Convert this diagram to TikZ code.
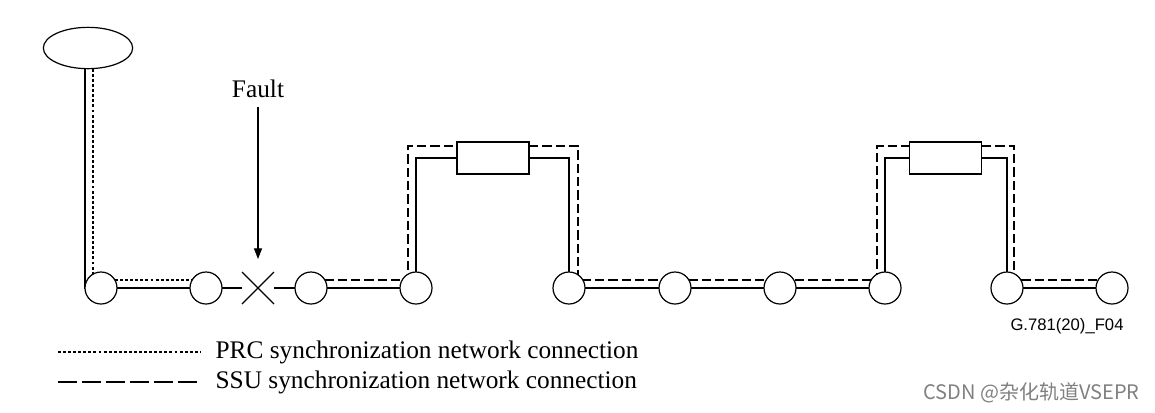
\documentclass[tikz,border=0pt]{standalone}
\usepackage{fontspec}
\setmainfont{Liberation Serif}
\newfontfamily\lsans{Liberation Sans}
\newfontfamily\cjk{Noto Sans CJK SC}
\usetikzlibrary{arrows.meta,shapes.geometric}
\begin{document}
\begin{tikzpicture}[x=0.75pt,y=-0.75pt,line width=0.9pt,
  ne/.style={circle,draw,fill=white,minimum size=24pt,inner sep=0pt},
  box/.style={draw,fill=white,minimum width=54pt,minimum height=24pt,inner sep=0pt},
  ssu/.style={dash pattern=on 7pt off 3pt,line width=0.9pt},
  ssuleg/.style={dash pattern=on 14pt off 4pt,line width=0.9pt},
  prc/.style={dash pattern=on 2.2pt off 1.6pt,line width=0.9pt},
  lbl/.style={font=\fontsize{19}{22}\selectfont,inner sep=0pt}]
\useasboundingbox (0,0) rectangle (1155,412);
% ellipse
\node[ellipse,draw,minimum width=67pt,minimum height=31pt,inner sep=0pt] (prc) at (88,48) {};
% nodes
\foreach \i/\x in {1/101,2/206,3/311,4/416,5/569,6/675,7/780,8/885,9/1007,10/1112}
  \coordinate (c\i) at (\x,288);
% solid lines
\draw (85,69) -- (85,288) -- (c4);
\draw (c5) -- (c8);
\draw (c9) -- (c10);
\draw (c4) -- (416,158) -- (457,158);
\draw (529,158) -- (569,158) -- (c5);
\draw (c8) -- (885,158) -- (909,158);
\draw (982,158) -- (1007,158) -- (c9);
% PRC dotted
\draw[prc] (93,69) -- (93,280) -- (c2 |- 0,280);
% SSU dashed
\draw[ssu] (311,280) -- (408,280) -- (408,146) -- (457,146);
\draw[ssu] (529,146) -- (578,146) -- (578,280) -- (877,280) -- (877,146) -- (909,146);
\draw[ssu] (982,146) -- (1014,146) -- (1014,280) -- (1112,280);
% boxes
\node[box] (b1) at (493,158) {};
\node[box] (b2) at (945.5,158) {};
% circles
\foreach \i in {1,...,10} \node[ne] (n\i) at (c\i) {};
% fault cross
\fill[white] (242,272) rectangle (274,304);
\draw (242,272) -- (274,304) (242,304) -- (274,272);
\draw (n2) -- (242,288) (274,288) -- (n3);
\node[lbl] (fault) at (258,89) {Fault};
\draw[-{Triangle[length=8pt,width=6pt]}] (258,107) -- (258,259);
% label
\node[font=\lsans\fontsize{12.5}{14}\selectfont,inner sep=0pt] (fig) at (1067,326) {G.781(20)\_F04};
% legend
\coordinate (l1a) at (58,352); \coordinate (l1b) at (200,352);
\coordinate (l2a) at (58,382); \coordinate (l2b) at (200,382);
\draw[prc] (l1a) -- (l1b);
\draw[ssuleg] (l2a) -- (l2b);
\node[lbl,anchor=west] (t1) at (215,352) {PRC synchronization network connection};
\node[lbl,anchor=west] (t2) at (215,382) {SSU synchronization network connection};
\node[font=\cjk\fontsize{15}{17}\selectfont,text=gray,anchor=east,inner sep=0pt] (wm) at (1140,393) {CSDN @杂化轨道VSEPR};
\end{tikzpicture}
\end{document}
